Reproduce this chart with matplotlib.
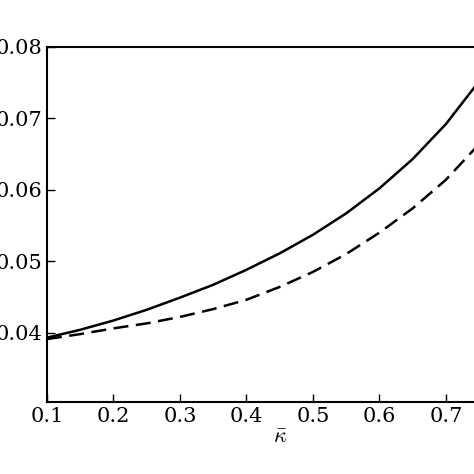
import matplotlib
matplotlib.use("Agg")
import matplotlib.pyplot as plt

plt.rcParams['font.family'] = 'DejaVu Serif'
plt.rcParams['mathtext.fontset'] = 'cm'

kappa = [0.10, 0.15, 0.20, 0.25, 0.30, 0.35, 0.40, 0.45, 0.50, 0.55, 0.60, 0.65, 0.70, 0.75, 0.80]
solid = [0.0393, 0.0404, 0.0417, 0.0432, 0.0449, 0.0467, 0.0488, 0.0511, 0.0537, 0.0567, 0.0602, 0.0643, 0.0692, 0.0752, 0.0825]
dashed = [0.0391, 0.0398, 0.0406, 0.0413, 0.0422, 0.0433, 0.0446, 0.0464, 0.0485, 0.0510, 0.0540, 0.0574, 0.0614, 0.0664, 0.0722]
xticks = [0.1, 0.2, 0.3, 0.4, 0.5, 0.6, 0.7, 0.8]
yticks = [0.04, 0.05, 0.06, 0.07, 0.08]

fig = plt.figure(figsize=(4.74, 4.74), dpi=100)
ax = fig.add_axes([0.099, 0.152, 0.982, 0.749])
ax.plot(kappa, solid, 'k-', lw=1.8)
ax.plot(kappa, dashed, 'k--', lw=1.8, dashes=(6, 3))
ax.set_xlim(0.1, 0.8)
ax.set_ylim(0.0303, 0.08)
ax.set_xticks(xticks)
ax.set_yticks(yticks)
ax.set_yticklabels(['0.04', '0.05', '0.06', '0.07', '0.08'])
ax.tick_params(labelsize=15, direction='in', length=6, width=1)
ax.set_xlabel(r'$\bar{\kappa}$', fontsize=16, labelpad=0)
for s in ax.spines.values():
    s.set_linewidth(1.5)
fig.savefig('out.png', dpi=100)
